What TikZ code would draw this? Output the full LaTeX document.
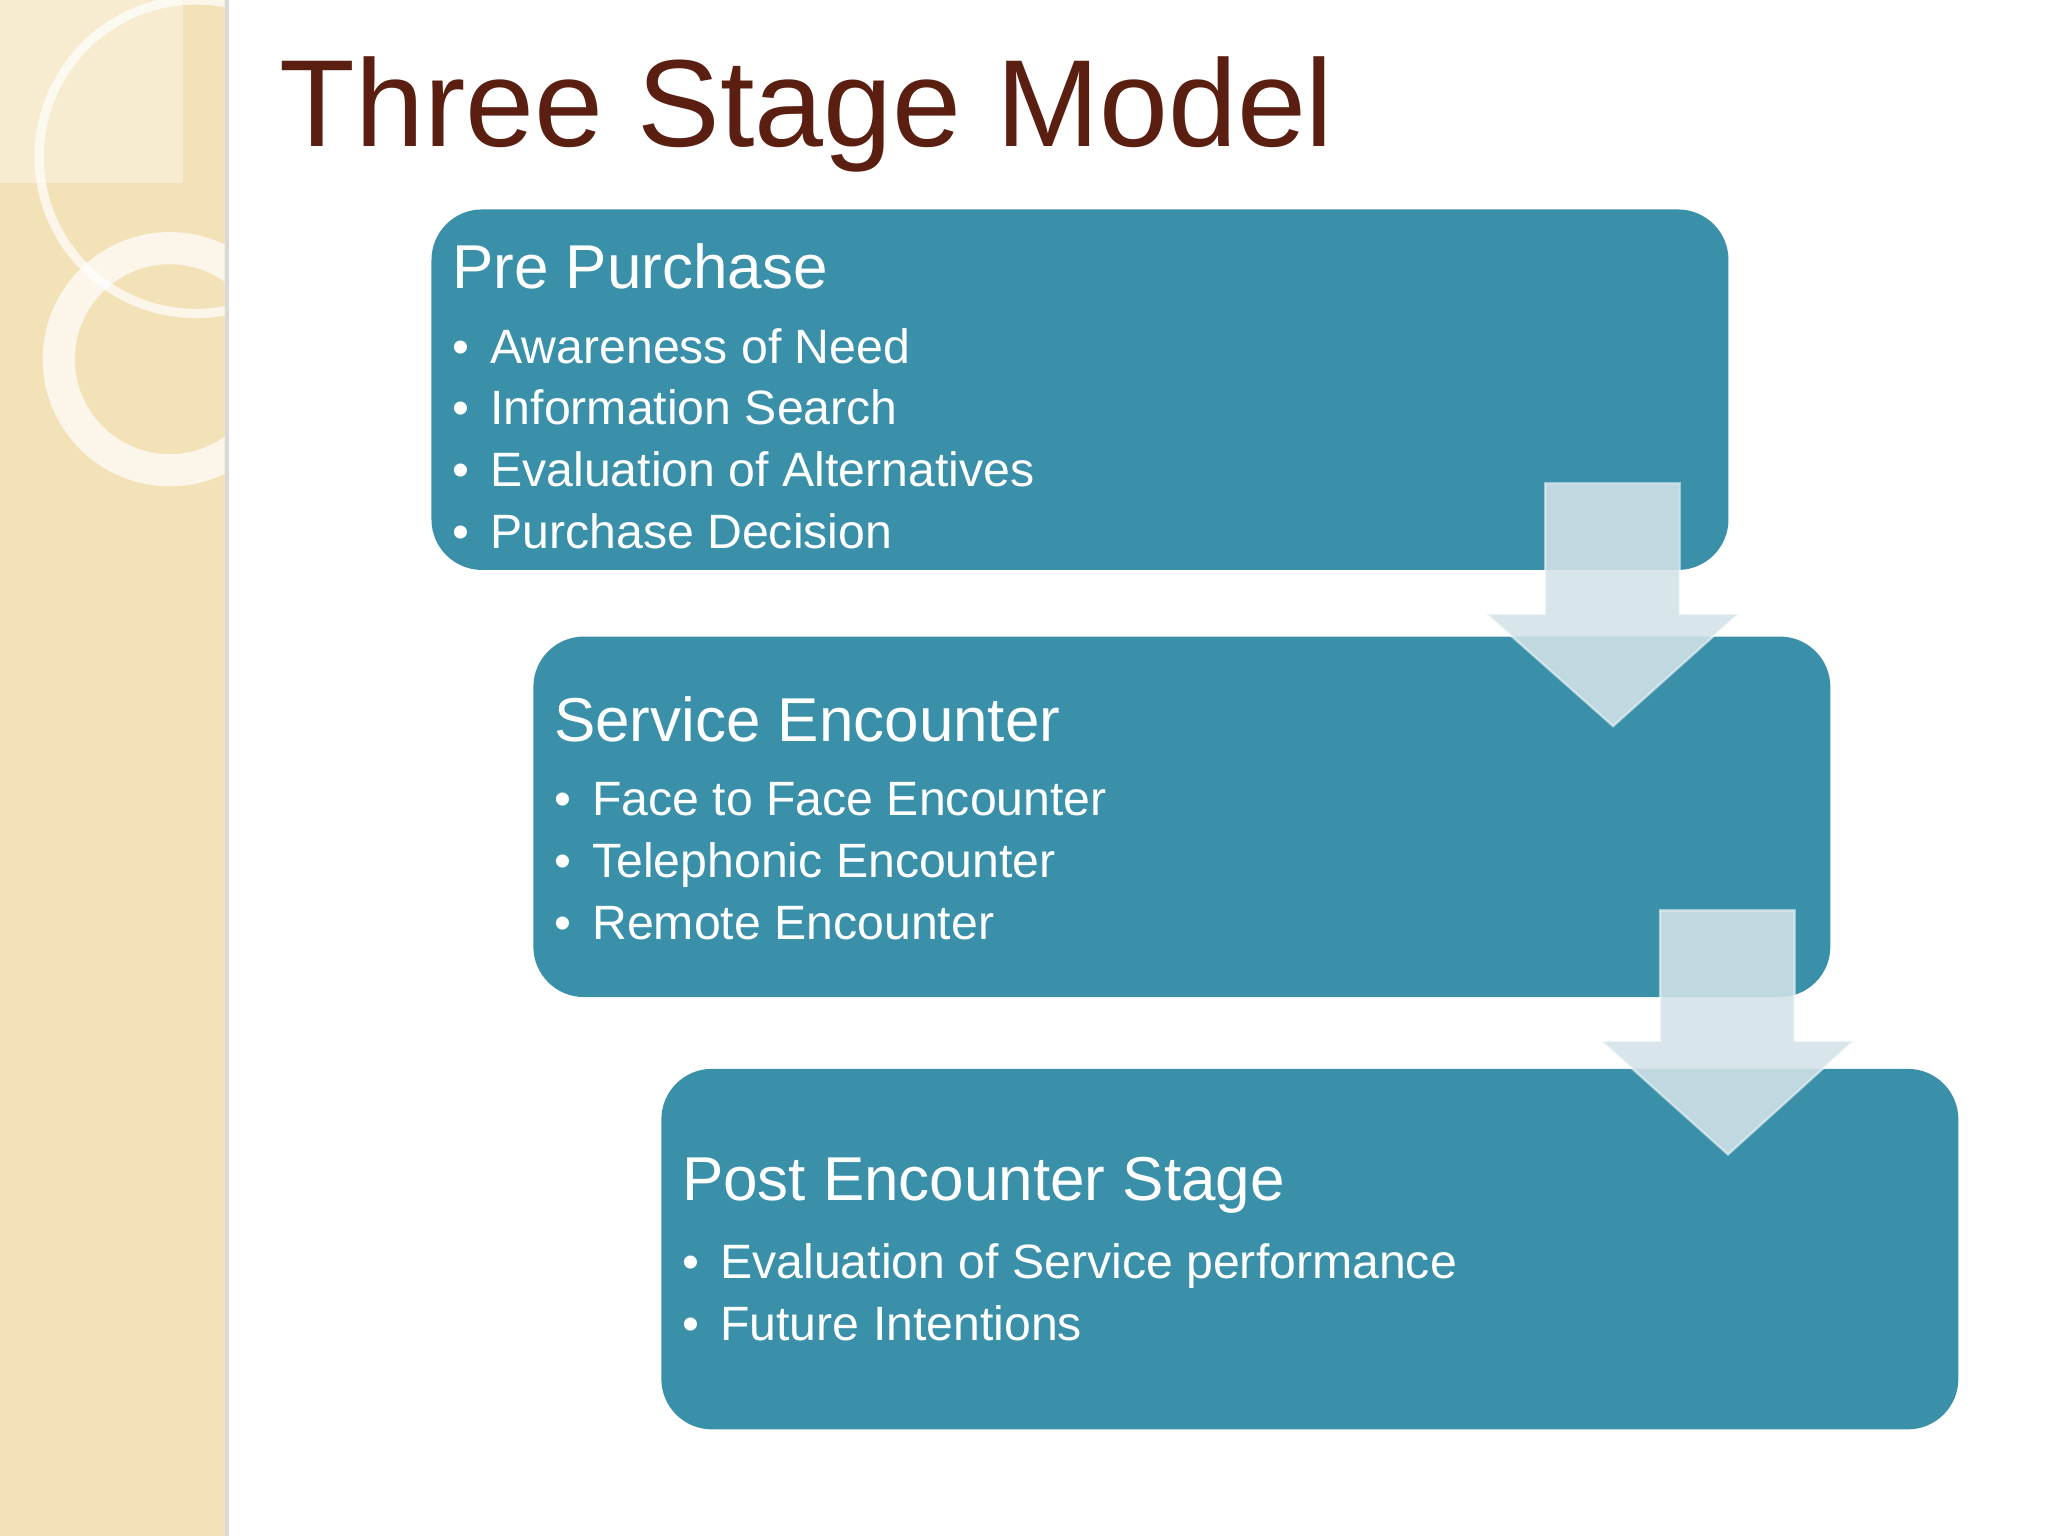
\documentclass[tikz,border=0pt]{standalone}
\usepackage{fontspec}
\setmainfont{Liberation Sans}
\usetikzlibrary{positioning}
\definecolor{stagebox}{HTML}{3A90A9}
\definecolor{titlebrown}{HTML}{5B1F12}
\definecolor{strip}{HTML}{F3E2B8}
\definecolor{arrowfill}{HTML}{D3E2E8}
\tikzset{
  stage/.style={fill=stagebox, rounded corners=22pt, draw=none},
  head/.style={anchor=north west, text=white, font=\fontsize{27}{30}\selectfont},
  items/.style={anchor=north west, text=white, font=\fontsize{21}{27}\selectfont, align=left},
  flow/.style={fill=arrowfill, fill opacity=0.88, draw=white, draw opacity=0.5, line width=1pt}
}
\begin{document}
\begin{tikzpicture}[x=0.02cm, y=-0.02cm]

\useasboundingbox (0,0) rectangle (1568,1176);
\fill[white] (0,0) rectangle (1568,1176);

%% left strip
\fill[strip] (0,0) rectangle (172,1176);
\fill[white, opacity=0.35] (0,0) rectangle (140,140);
\begin{scope}
\clip (0,0) rectangle (172,1176);
\draw[white, opacity=0.7, line width=4pt] (150,120) circle (120);
\draw[white, opacity=0.7, line width=14pt] (130,275) circle (85);
\end{scope}
\fill[black!15] (172,0) rectangle (175,1176);

%% title
\node[anchor=west, text=titlebrown, font=\fontsize{54}{60}\selectfont] (title) at (208,88) {Three Stage Model};

%% stages
\node[stage, minimum width=993*0.02cm, minimum height=276*0.02cm, anchor=north west] (pre) at (330,160) {};
\node[stage, minimum width=993*0.02cm, minimum height=276*0.02cm, anchor=north west] (enc) at (408,487) {};
\node[stage, minimum width=993*0.02cm, minimum height=276*0.02cm, anchor=north west] (post) at (506,818) {};

\node[head] (preh) at (340,180) {Pre Purchase};
\node[items] (prei) at (340,245) {• \,Awareness of Need\\ • \,Information Search\\ • \,Evaluation of Alternatives\\ • \,Purchase Decision};

\node[head] (ench) at (418,527) {Service Encounter};
\node[items] (enci) at (418,593) {• \,Face to Face Encounter\\ • \,Telephonic Encounter\\ • \,Remote Encounter};

\node[head] (posth) at (516,880) {Post Encounter Stage};
\node[items] (posti) at (516,946) {• \,Evaluation of Service performance\\ • \,Future Intentions};

%% arrows between stages
\draw[flow] (1183,370) -- (1286,370) -- (1286,470) -- (1331,470) -- (1235,556) -- (1138,470) -- (1183,470) -- cycle;
\draw[flow] (1271,697) -- (1374,697) -- (1374,797) -- (1419,797) -- (1323,884) -- (1226,797) -- (1271,797) -- cycle;

\end{tikzpicture}
\end{document}
